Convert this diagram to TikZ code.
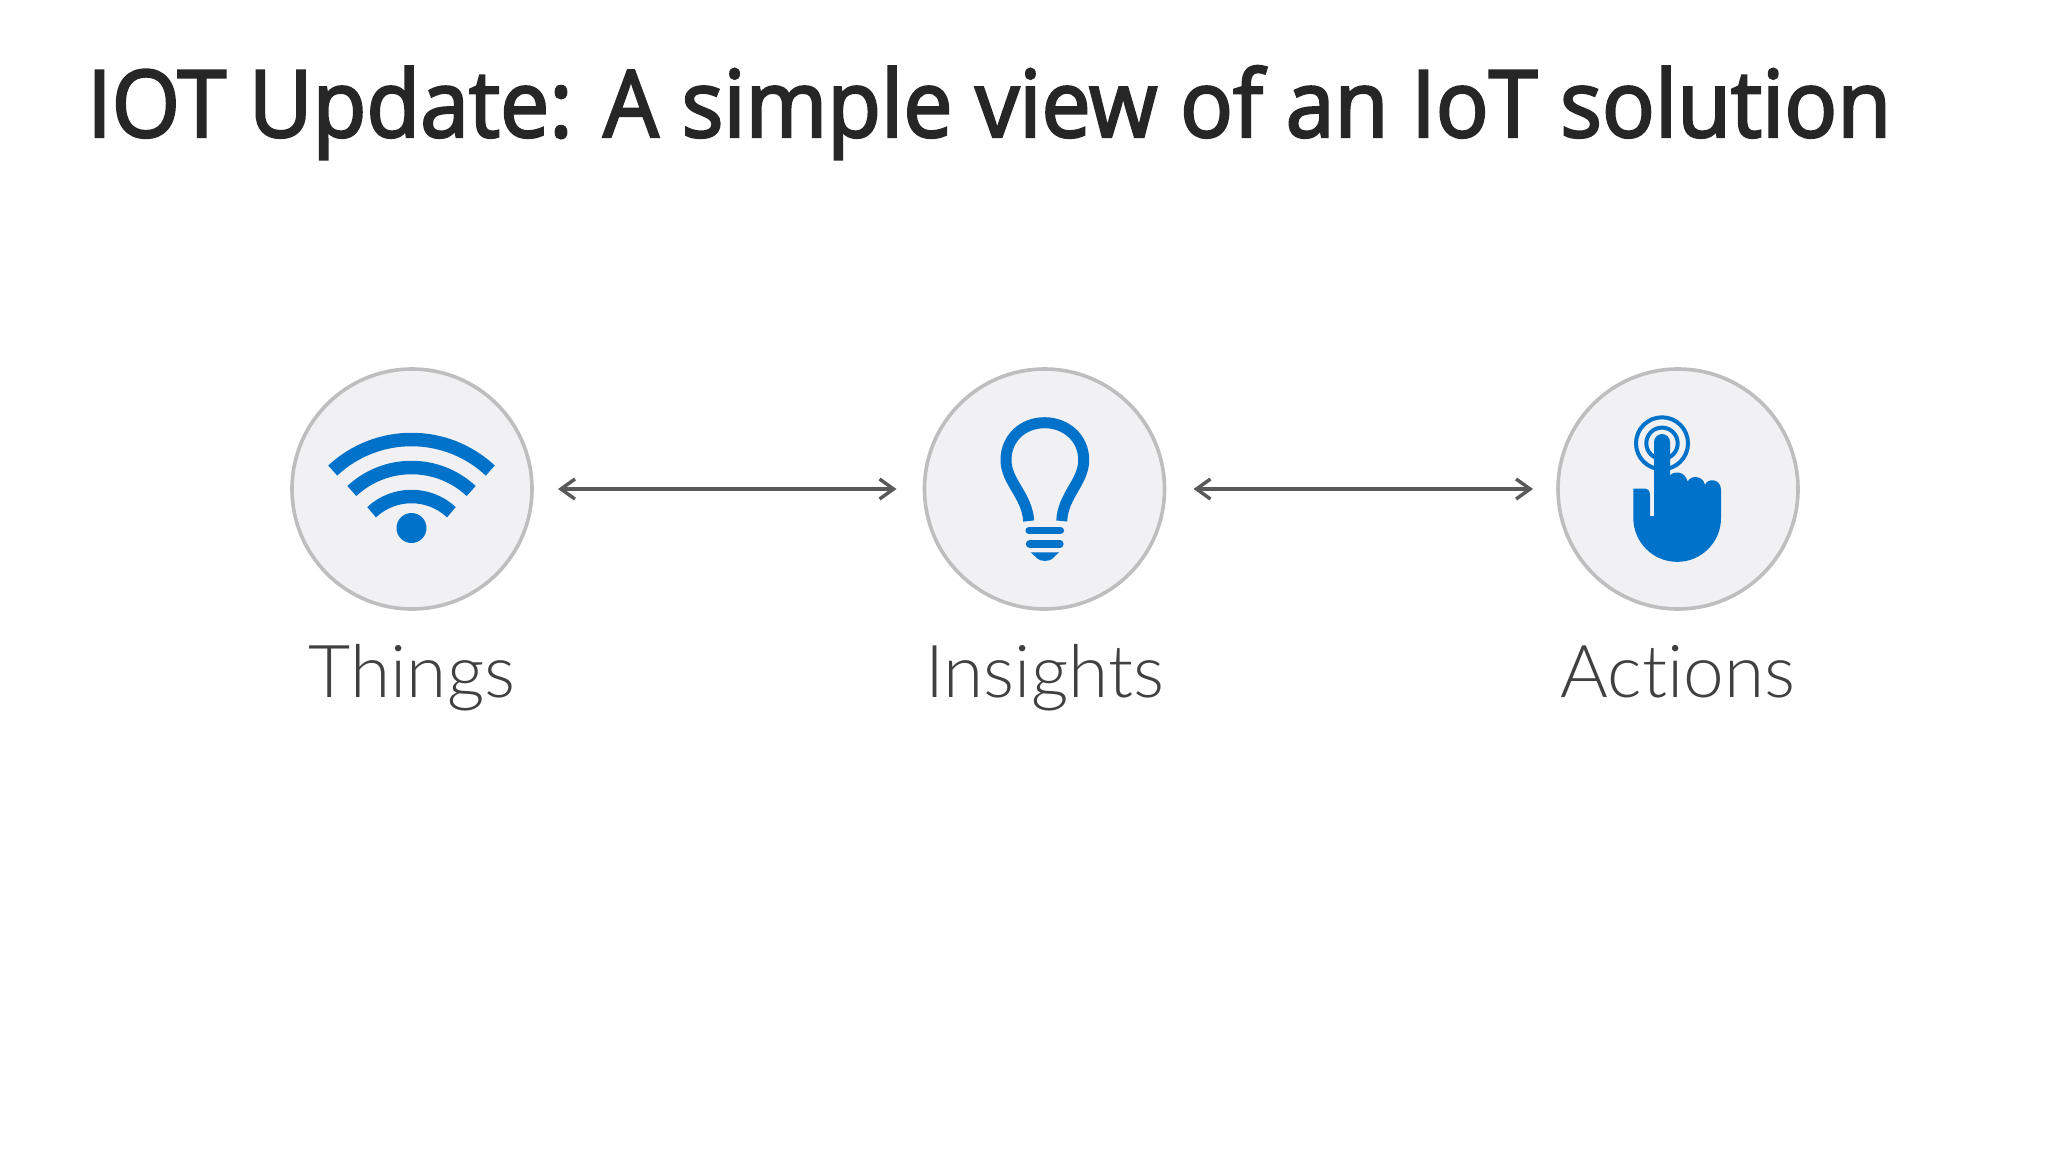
\documentclass[tikz,border=0pt]{standalone}
\usepackage{fontspec}
\usetikzlibrary{arrows.meta}
\newfontfamily\titlef[FakeBold=2.6,FakeStretch=0.944]{Open Sans}
\newfontfamily\lightf[Ligatures=NoCommon]{Lato Light}
\definecolor{iconblue}{HTML}{0072C9}
\definecolor{ringgrey}{HTML}{BEBEBE}
\definecolor{discfill}{HTML}{F1F1F3}
\definecolor{arrowgrey}{HTML}{595959}
\definecolor{titleink}{HTML}{262626}
\definecolor{labelink}{HTML}{404040}
\tikzset{
  disc/.style={circle,draw=ringgrey,fill=discfill,line width=3.6pt,minimum size=240pt,inner sep=0pt,outer sep=0pt},
  lab/.style={anchor=base,inner sep=0pt,text=labelink,font=\lightf\fontsize{73}{80}\selectfont},
  biarrow/.style={draw=arrowgrey,line width=3.4pt,{Straight Barb[length=14pt,width=20pt,line width=3.4pt]}-{Straight Barb[length=14pt,width=20pt,line width=3.4pt]}},
  wave/.style={draw=iconblue,line width=13.5pt,line cap=butt},
  barline/.style={draw=iconblue,line width=7.2pt,line cap=round}
}
\begin{document}
\begin{tikzpicture}[x=1pt,y=-1pt]
\useasboundingbox (0,0) rectangle (2048,1152);
\fill[white] (0,0) rectangle (2048,1152);
\node[anchor=base west,inner sep=0pt,text=titleink,font=\titlef\fontsize{93}{100}\selectfont] (title) at (87,137) {IOT Update: A simple view of an IoT solution};
\node[disc] (things) at (412,489) {};
\node[disc] (insights) at (1044.5,489) {};
\node[disc] (actions) at (1678,489) {};
\node[lab] (lt) at (412,697) {Things};
\node[lab] (li) at (1044.5,697) {Insights};
\node[lab] (la) at (1678,697) {Actions};
\draw[biarrow,shorten <=26pt,shorten >=28pt] (things) -- (insights);
\draw[biarrow,shorten <=29pt,shorten >=25pt] (insights) -- (actions);
% wifi
\fill[iconblue] (411.5,528) circle (15);
\foreach \r in {115.5,87.5,58.5}
  \draw[wave] ({411.5-\r*sin(43)},{555-\r*cos(43)}) arc[start angle=-133,end angle=-47,radius=\r];
% bulb
\draw[draw=iconblue,line width=11pt,line cap=butt]
  (1028.7,521) .. controls (1027,495) and (1006,482) .. (1006,460)
  .. controls (1006,438) and (1023,422.7) .. (1044.6,422.7)
  .. controls (1066,422.7) and (1083.7,438) .. (1083.7,460)
  .. controls (1083.7,482) and (1063,495) .. (1061.7,521);
\draw[barline] (1029,530.7) -- (1060.5,530.7);
\draw[barline] (1029.5,544) -- (1060,544);
\fill[iconblue] (1030.7,552.3) -- (1059,552.3) -- (1052,559) .. controls (1049,561.5) and (1041,561.5) .. (1038,559) -- cycle;
% hand
\draw[draw=iconblue,line width=4pt] (1662,443.3) circle (26);
\draw[draw=iconblue,line width=4pt] (1662,443.3) circle (15.7);
\fill[iconblue] (1633.3,488.5) -- (1644,488.5) .. controls (1648,488.5) and (1650,491) .. (1650,495)
  -- (1650,516) -- (1654,516) -- (1654,442) arc[start angle=180,end angle=360,radius=8]
  -- (1670,476) .. controls (1672,471) and (1685,470) .. (1687.7,481.7)
  .. controls (1690,475) and (1703,475) .. (1705,485)
  .. controls (1707,478) and (1721,478) .. (1721,490)
  -- (1721,518) arc[start angle=0,end angle=180,radius=43.85] -- cycle;
\end{tikzpicture}
\end{document}
